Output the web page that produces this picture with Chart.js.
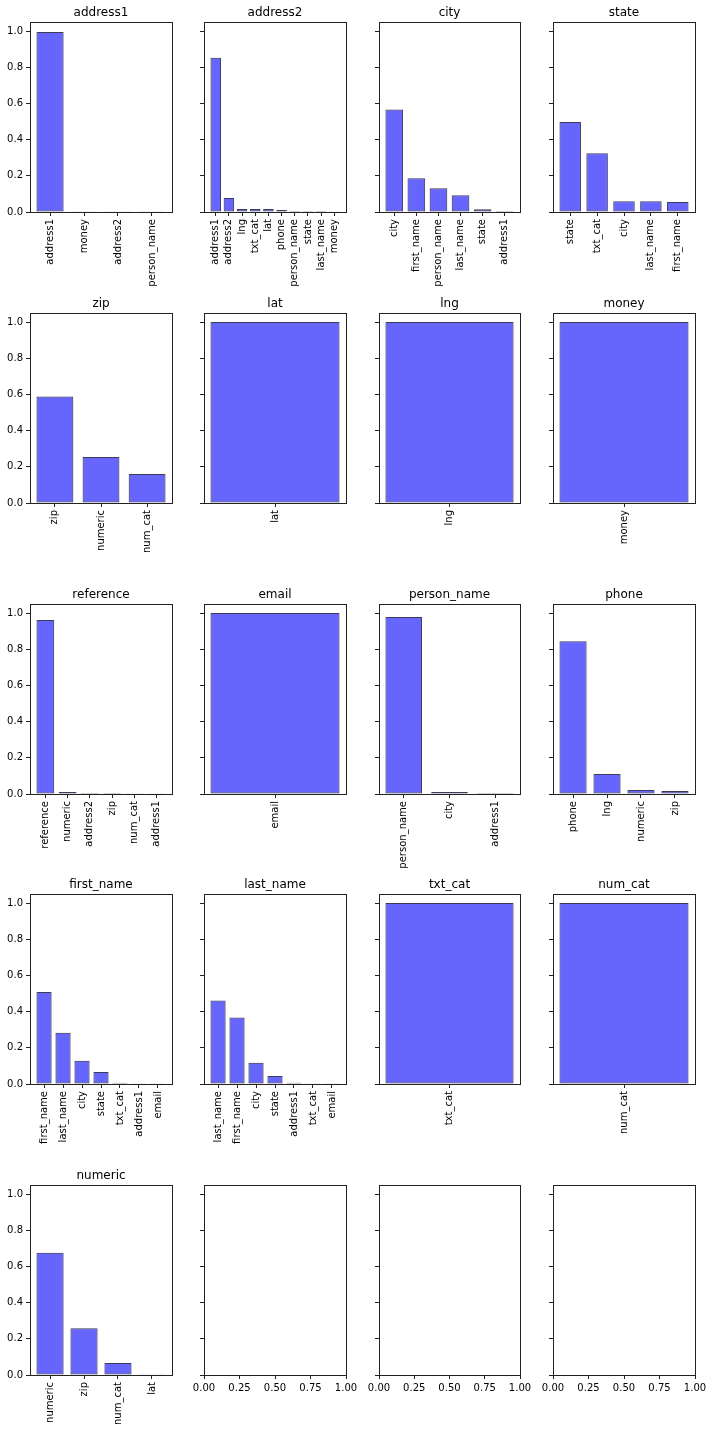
<!DOCTYPE html>
<html lang="en">
<head>
<meta charset="UTF-8" />
<title>Column type matches</title>
<script src="https://cdn.jsdelivr.net/npm/chart.js"></script>
<style>
  body { margin: 0; background: #fff; }
  #grid { position: relative; width: 712px; height: 1432px; overflow: hidden; }
  #grid canvas { position: absolute; }
</style>
</head>
<body>
<div id="grid"></div>
<script>
  // values, one pair of arrays per panel
  const address1Cats = ['address1', 'money', 'address2', 'person_name'];
  const address1Vals = [0.995, 0.002, 0.001, 0.001];
  const address2Cats = ['address1', 'address2', 'lng', 'txt_cat', 'lat', 'phone', 'person_name', 'state', 'last_name', 'money'];
  const address2Vals = [0.853, 0.077, 0.016, 0.016, 0.016, 0.011, 0.005, 0.005, 0.005, 0.001];
  const cityCats = ['city', 'first_name', 'person_name', 'last_name', 'state', 'address1'];
  const cityVals = [0.566, 0.186, 0.131, 0.093, 0.015, 0.005];
  const stateCats = ['state', 'txt_cat', 'city', 'last_name', 'first_name'];
  const stateVals = [0.497, 0.325, 0.059, 0.059, 0.055];
  const zipCats = ['zip', 'numeric', 'num_cat'];
  const zipVals = [0.589, 0.254, 0.160];
  const latCats = ['lat'];
  const latVals = [1.0];
  const lngCats = ['lng'];
  const lngVals = [1.0];
  const moneyCats = ['money'];
  const moneyVals = [1.0];
  const referenceCats = ['reference', 'numeric', 'address2', 'zip', 'num_cat', 'address1'];
  const referenceVals = [0.961, 0.011, 0.006, 0.006, 0.001, 0.001];
  const emailCats = ['email'];
  const emailVals = [1.0];
  const personNameCats = ['person_name', 'city', 'address1'];
  const personNameVals = [0.978, 0.011, 0.006];
  const phoneCats = ['phone', 'lng', 'numeric', 'zip'];
  const phoneVals = [0.844, 0.111, 0.022, 0.017];
  const firstNameCats = ['first_name', 'last_name', 'city', 'state', 'txt_cat', 'address1', 'email'];
  const firstNameVals = [0.509, 0.283, 0.128, 0.067, 0.007, 0.001, 0.001];
  const lastNameCats = ['last_name', 'first_name', 'city', 'state', 'address1', 'txt_cat', 'email'];
  const lastNameVals = [0.461, 0.367, 0.117, 0.044, 0.007, 0.001, 0.001];
  const txtCatCats = ['txt_cat'];
  const txtCatVals = [1.0];
  const numCatCats = ['num_cat'];
  const numCatVals = [1.0];
  const numericCats = ['numeric', 'zip', 'num_cat', 'lat'];
  const numericVals = [0.675, 0.259, 0.066, 0.001];

  const yTicks = [0, 0.2, 0.4, 0.6, 0.8, 1.0];
  const emptyTicks = [0, 0.25, 0.5, 0.75, 1.0];

  const panels = [
    ['address1', address1Cats, address1Vals],
    ['address2', address2Cats, address2Vals],
    ['city', cityCats, cityVals],
    ['state', stateCats, stateVals],
    ['zip', zipCats, zipVals],
    ['lat', latCats, latVals],
    ['lng', lngCats, lngVals],
    ['money', moneyCats, moneyVals],
    ['reference', referenceCats, referenceVals],
    ['email', emailCats, emailVals],
    ['person_name', personNameCats, personNameVals],
    ['phone', phoneCats, phoneVals],
    ['first_name', firstNameCats, firstNameVals],
    ['last_name', lastNameCats, lastNameVals],
    ['txt_cat', txtCatCats, txtCatVals],
    ['num_cat', numCatCats, numCatVals],
    ['numeric', numericCats, numericVals],
    null, null, null
  ];

  // axes boxes of the 5x4 grid, page pixels
  const colLeft = [30, 204, 379, 553];
  const colRight = [172, 346, 520, 695];
  const rowTop = [22, 313, 604, 894, 1185];
  const axH = 190;
  const padL = 31, padR = 16, padT = 23, padB = 95;

  Chart.defaults.font.family = "'DejaVu Sans', sans-serif";
  Chart.defaults.color = '#000';

  const frame = {
    id: 'frame',
    afterDraw(chart) {
      const a = chart.chartArea, ctx = chart.ctx;
      ctx.save();
      ctx.strokeStyle = '#222';
      ctx.lineWidth = 1;
      ctx.strokeRect(a.left + 0.5, a.top + 0.5, a.right - a.left, a.bottom - a.top);
      ctx.restore();
    }
  };

  const grid = document.getElementById('grid');

  panels.forEach((p, k) => {
    const row = Math.floor(k / 4), col = k % 4;
    const w = colRight[col] - colLeft[col];
    const canvas = document.createElement('canvas');
    canvas.width = w + padL + padR;
    canvas.height = axH + padT + padB;
    canvas.style.left = (colLeft[col] - padL) + 'px';
    canvas.style.top = (rowTop[row] - padT) + 'px';
    canvas.style.width = canvas.width + 'px';
    canvas.style.height = canvas.height + 'px';
    grid.appendChild(canvas);

    const tickGrid = { drawOnChartArea: false, drawTicks: true, tickLength: 4, color: '#222', offset: false };
    let xScale, datasets = [];

    if (p) {
      const [title, cats, vals] = p;
      const n = cats.length;
      const margin = 0.05 * (n - 0.2);
      xScale = {
        type: 'linear',
        offset: false,
        min: -0.4 - margin,
        max: n - 0.6 + margin,
        afterBuildTicks: s => { s.ticks = cats.map((_, i) => ({ value: i })); },
        afterFit: s => { s.height = padB; },
        grid: tickGrid,
        border: { display: false },
        ticks: {
          autoSkip: false, minRotation: 90, maxRotation: 90, padding: 3,
          font: { size: 10 },
          callback: v => cats[v]
        }
      };
      datasets = [{
        data: vals.map((v, i) => ({ x: i, y: v })),
        backgroundColor: 'rgba(0, 0, 255, 0.6)',
        borderColor: '#3c3c58',
        borderWidth: 1,
        borderSkipped: false,
        barPercentage: 1,
        categoryPercentage: n === 1 ? 0.8 / 0.88 : 0.8
      }];
    } else {
      xScale = {
        type: 'linear',
        offset: false,
        min: 0,
        max: 1,
        afterBuildTicks: s => { s.ticks = emptyTicks.map(v => ({ value: v })); },
        afterFit: s => { s.height = padB; },
        grid: tickGrid,
        border: { display: false },
        ticks: {
          autoSkip: false, minRotation: 0, maxRotation: 0, padding: 3,
          font: { size: 10 },
          callback: v => v.toFixed(2)
        }
      };
    }

    new Chart(canvas, {
      type: 'bar',
      data: { datasets },
      options: {
        responsive: false,
        animation: false,
        devicePixelRatio: 1,
        layout: { padding: { left: 0, right: padR, top: p ? 0 : padT, bottom: 0 } },
        plugins: {
          legend: { display: false },
          tooltip: { enabled: false },
          title: {
            display: !!p,
            text: p ? p[0] : '',
            fullSize: false,
            font: { size: 12, weight: 'normal' },
            padding: { top: 6.8, bottom: 1.8 }
          }
        },
        scales: {
          x: xScale,
          y: {
            type: 'linear',
            min: 0,
            max: 1.05,
            afterBuildTicks: s => { s.ticks = yTicks.map(v => ({ value: v })); },
            afterFit: s => { s.width = padL; },
            grid: tickGrid,
            border: { display: false },
            ticks: {
              display: col === 0,
              padding: 3,
              font: { size: 10 },
              callback: v => v.toFixed(1)
            }
          }
        }
      },
      plugins: [frame]
    });
  });
</script>
</body>
</html>
